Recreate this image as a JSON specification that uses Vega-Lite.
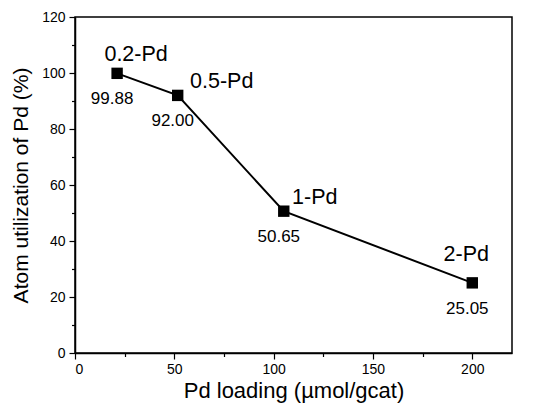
{
  "$schema": "https://vega.github.io/schema/vega-lite/v6.json",
  "width": 437,
  "height": 336,
  "autosize": {"type": "none"},
  "padding": {"left": 75, "top": 17, "right": 38, "bottom": 62},
  "background": "white",
  "config": {
    "font": "Liberation Sans",
    "view": {"stroke": "#000", "strokeWidth": 1.5},
    "axis": {
      "grid": false,
      "domainColor": "#000",
      "domainWidth": 1.5,
      "tickColor": "#000",
      "tickWidth": 1.2,
      "labelColor": "#000",
      "labelFont": "Liberation Sans",
      "labelFontSize": 14,
      "titleFont": "Liberation Sans",
      "titleFontSize": 21,
      "titleFontWeight": "normal",
      "titleColor": "#000"
    }
  },
  "data": {
    "values": [
      {"loading": 21.2, "util": 99.88, "sample": "0.2-Pd", "label": "99.88"},
      {"loading": 51.7, "util": 92.0, "sample": "0.5-Pd", "label": "92.00"},
      {"loading": 105.1, "util": 50.65, "sample": "1-Pd", "label": "50.65"},
      {"loading": 200, "util": 25.05, "sample": "2-Pd", "label": "25.05"}
    ]
  },
  "encoding": {
    "x": {
      "field": "loading",
      "type": "quantitative",
      "title": "Pd loading (µmol/gcat)",
      "scale": {"domain": [0, 220], "nice": false, "zero": false},
      "axis": {
        "values": [0, 25, 50, 75, 100, 125, 150, 175, 200],
        "labelExpr": "datum.value % 50 === 0 ? datum.label : ''",
        "tickSize": {"condition": {"test": "datum.value % 50 === 0", "value": 6}, "value": 3.5},
        "labelPadding": 3,
        "titleFontSize": 22,
        "titlePadding": 4
      }
    },
    "y": {
      "field": "util",
      "type": "quantitative",
      "title": "Atom utilization of Pd (%)",
      "scale": {"domain": [0, 120], "nice": false},
      "axis": {
        "values": [0, 10, 20, 30, 40, 50, 60, 70, 80, 90, 100, 110, 120],
        "labelExpr": "datum.value % 20 === 0 ? datum.label : ''",
        "tickSize": {"condition": {"test": "datum.value % 20 === 0", "value": 6}, "value": 3.5},
        "labelPadding": 4,
        "titlePadding": 10
      }
    }
  },
  "layer": [
    {"mark": {"type": "line", "color": "#000", "strokeWidth": 2}},
    {"mark": {"type": "point", "shape": "square", "filled": true, "color": "#000", "opacity": 1, "size": 130}},
    {
      "mark": {"type": "text", "fontSize": 17, "color": "#000", "align": "center", "baseline": "alphabetic", "dx": -5, "dy": 31},
      "encoding": {"text": {"field": "label"}}
    },
    {
      "transform": [{"filter": "datum.sample === '0.2-Pd'"}],
      "mark": {"type": "text", "fontSize": 21.5, "color": "#000", "align": "center", "baseline": "alphabetic", "dx": 19, "dy": -12},
      "encoding": {"text": {"field": "sample"}}
    },
    {
      "transform": [{"filter": "datum.sample === '0.5-Pd'"}],
      "mark": {"type": "text", "fontSize": 21.5, "color": "#000", "align": "center", "baseline": "alphabetic", "dx": 44, "dy": -7},
      "encoding": {"text": {"field": "sample"}}
    },
    {
      "transform": [{"filter": "datum.sample === '1-Pd'"}],
      "mark": {"type": "text", "fontSize": 21.5, "color": "#000", "align": "center", "baseline": "alphabetic", "dx": 31, "dy": -7},
      "encoding": {"text": {"field": "sample"}}
    },
    {
      "transform": [{"filter": "datum.sample === '2-Pd'"}],
      "mark": {"type": "text", "fontSize": 21.5, "color": "#000", "align": "center", "baseline": "alphabetic", "dx": -6, "dy": -22},
      "encoding": {"text": {"field": "sample"}}
    }
  ]
}
